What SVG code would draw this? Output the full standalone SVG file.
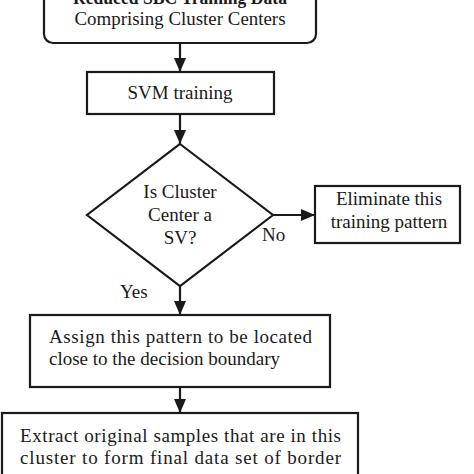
<svg xmlns="http://www.w3.org/2000/svg" width="474" height="474" viewBox="0 0 474 474">
<style>
.box{fill:#fff;stroke:#1a1a1a;stroke-width:2.2}
.t{font-family:"Liberation Serif","Times New Roman",serif;font-size:19px;fill:#1a1a1a}
.c{text-anchor:middle}
.ln{stroke:#1a1a1a;stroke-width:2.2;fill:none}
</style>
<defs>
<marker id="ah" viewBox="0 0 14 12" refX="14" refY="6" markerWidth="14" markerHeight="12" markerUnits="userSpaceOnUse" orient="auto">
<path d="M0,0 L14,6 L0,12 Z" fill="#1a1a1a"/>
</marker>
</defs>
<rect width="474" height="474" fill="#fff"/>
<g id="connectors">
<line class="ln" x1="180" y1="43" x2="180" y2="72" marker-end="url(#ah)"/>
<line class="ln" x1="180" y1="114" x2="180" y2="144" marker-end="url(#ah)"/>
<line class="ln" x1="273" y1="215" x2="315" y2="215" marker-end="url(#ah)"/>
<line class="ln" x1="180" y1="286" x2="180" y2="315" marker-end="url(#ah)"/>
<line class="ln" x1="180" y1="387" x2="180" y2="413" marker-end="url(#ah)"/>
<text class="t" x="262" y="241">No</text>
<text class="t" x="120" y="298">Yes</text>
</g>
<g id="start">
<rect class="box" x="44" y="-30" width="272" height="73" rx="9"/>
<text class="t c" x="180" y="4" font-weight="bold" textLength="214" lengthAdjust="spacingAndGlyphs">Reduced SBC Training Data</text>
<text class="t c" x="180" y="25" textLength="211" lengthAdjust="spacingAndGlyphs">Comprising Cluster Centers</text>
</g>
<g id="svm">
<rect class="box" x="87" y="72" width="187" height="42"/>
<text class="t c" x="180" y="99">SVM training</text>
</g>
<g id="decision">
<polygon class="box" points="180,144 273,215 180,286 87,215"/>
<text class="t c" x="180" y="198">Is Cluster</text>
<text class="t c" x="180" y="221">Center a</text>
<text class="t c" x="180" y="244">SV?</text>
</g>
<g id="eliminate">
<rect class="box" x="315" y="186" width="145" height="57"/>
<text class="t c" x="389" y="205">Eliminate  this</text>
<text class="t c" x="389" y="228">training pattern</text>
</g>
<g id="assign">
<rect class="box" x="30" y="315" width="300" height="72"/>
<text class="t" x="49" y="343" textLength="263" lengthAdjust="spacing">Assign this pattern to be located</text>
<text class="t" x="49" y="365">close to the decision boundary</text>
</g>
<g id="extract">
<rect class="box" x="2" y="413" width="356" height="80"/>
<text class="t" x="20" y="442" textLength="321" lengthAdjust="spacing">Extract original samples that are in this</text>
<text class="t" x="20" y="464" textLength="321" lengthAdjust="spacing">cluster to form final data set of border</text>
</g>
</svg>
